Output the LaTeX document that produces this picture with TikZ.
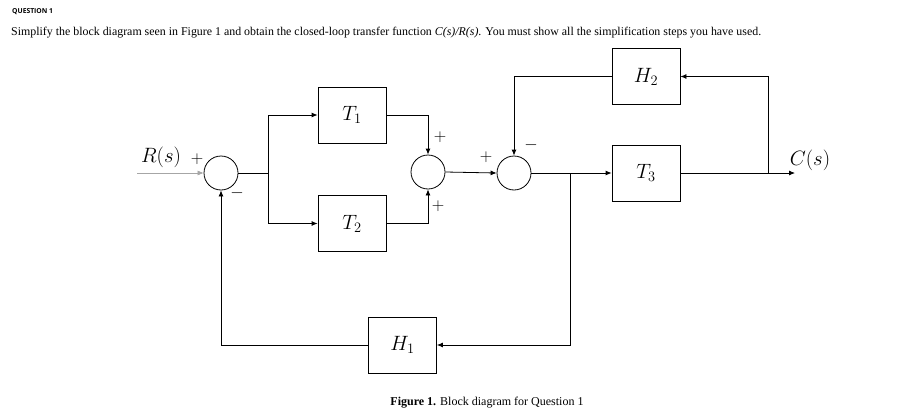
\documentclass[tikz,border=0pt]{standalone}
\usepackage{fontspec}
\setmainfont{Liberation Serif}
\newfontfamily\qsans{Open Sans}
\usetikzlibrary{arrows.meta}
\begin{document}
\begin{tikzpicture}[x=1pt,y=-1pt,
  blk/.style={draw,line width=0.8pt,minimum width=68pt,minimum height=56pt,inner sep=0pt,font=\fontsize{20}{24}\selectfont},
  sm/.style={draw,circle,line width=0.8pt,minimum size=34pt,inner sep=0pt},
  ln/.style={line width=0.8pt},
  ar/.style={ln,-{Latex[length=6pt,width=5pt]}},
  sg/.style={font=\fontsize{17}{20}\selectfont,inner sep=0pt}]
\useasboundingbox (0,0) rectangle (899,415);
\node[anchor=west,font=\qsans\bfseries\fontsize{6.8}{8}\selectfont,inner sep=0pt] (q) at (12,12) {QUESTION 1};
\node[anchor=west,font=\fontsize{11.9}{14}\selectfont,inner sep=0pt] (t) at (11,33) {Simplify the block diagram seen in Figure 1 and obtain the closed-loop transfer function \textit{C(s)/R(s)}. You must show all the simplification steps you have used.};
\node[sm] (s1) at (221,173) {};
\node[sm] (s2) at (428,172) {};
\node[sm] (s3) at (514,173) {};
\node[blk] (T1) at (352,115) {$T_1$};
\node[blk] (T2) at (352,223.5) {$T_2$};
\node[blk] (H2) at (646,76.5) {$H_2$};
\node[blk] (T3) at (646,173) {$T_3$};
\node[blk] (H1) at (402.5,345) {$H_1$};
\coordinate (in) at (137,173);
\coordinate (out) at (795,173);
\coordinate (j1) at (268,173);
\coordinate (j2) at (570,173);
\coordinate (j3) at (768,173);
\node[font=\fontsize{20}{24}\selectfont,inner sep=0pt] (R) at (161,157) {$R(s)$};
\node[font=\fontsize{20}{24}\selectfont,inner sep=0pt] (C) at (810,160) {$C(s)$};
\node[sg] at (197,159) {$+$};
\node[sg] at (237,193) {$-$};
\node[sg] at (440,137) {$+$};
\node[sg] at (438,206) {$+$};
\node[sg] at (486,157) {$+$};
\node[sg] at (531,145) {$-$};
\draw[ar,draw=gray!70,line width=0.6pt] (in) -- (s1.west);
\draw[ln] (s1.east) -- (j1);
\draw[ar] (j1) |- (T1.west);
\draw[ar] (j1) |- (T2.west);
\draw[ar] (T1.east) -| (s2.north);
\draw[ar] (T2.east) -| (s2.south);
\draw[ar] (s2.east) -- (s3.west);
\draw[ar] (s3.east) -- (T3.west);
\draw[ln] (T3.east) -- (j3);
\draw[ar] (j3) -- (out);
\draw[ar] (j3) |- (H2.east);
\draw[ar] (H2.west) -| (s3.north);
\draw[ar] (j2) |- (H1.east);
\draw[ar] (H1.west) -| (s1.south);
\node[anchor=center,font=\fontsize{12}{14}\selectfont] (cap) at (487,403) {\textbf{Figure 1.} Block diagram for Question 1};
\end{tikzpicture}
\end{document}
